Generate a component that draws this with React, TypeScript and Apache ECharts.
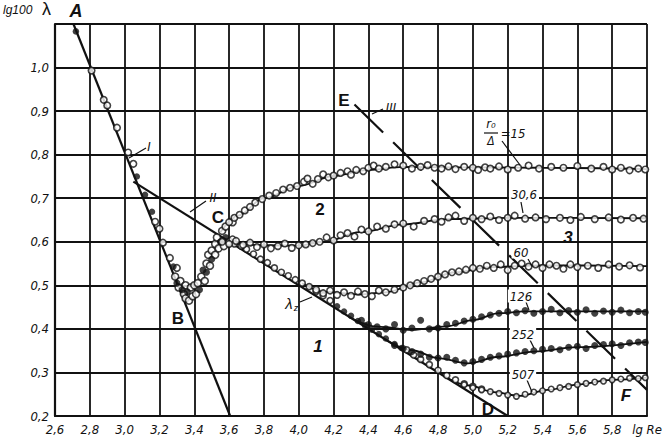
import { useEffect, useRef } from 'react';
import * as echarts from 'echarts';

// ---- axis ticks ----
const xMin = 2.6, xMax = 6.0, xStep = 0.2;
const yMin = 0.2, yMax = 1.1, yStep = 0.1;

// ---- straight reference lines ----
const lineAB = [[2.706, 1.1], [3.606, 0.2]];
const lineII = [[3.05, 0.738], [5.2, 0.2]];
const lineIII = [[4.32, 0.915], [6.0, 0.26]];

// ---- fitted curves ----
const fit15 = [[3.55, 0.622], [3.65, 0.66], [3.8, 0.7], [4.0, 0.728], [4.2, 0.751], [4.4, 0.765], [4.6, 0.772], [4.9, 0.771], [5.4, 0.77], [6.0, 0.767]];
const fit30 = [[3.55, 0.6], [3.8, 0.592], [4.0, 0.591], [4.15, 0.6], [4.35, 0.622], [4.6, 0.64], [4.85, 0.652], [5.2, 0.655], [6.0, 0.654]];
const fit60 = [[4.02, 0.505], [4.15, 0.485], [4.35, 0.479], [4.5, 0.484], [4.7, 0.507], [4.9, 0.53], [5.1, 0.542], [5.4, 0.546], [6.0, 0.544]];
const fit126 = [[4.3, 0.425], [4.45, 0.405], [4.65, 0.398], [4.85, 0.406], [5.0, 0.42], [5.15, 0.436], [5.3, 0.44], [6.0, 0.44]];
const fit252 = [[4.5, 0.375], [4.65, 0.351], [4.8, 0.333], [4.97, 0.321], [5.15, 0.336], [5.35, 0.348], [5.6, 0.358], [6.0, 0.37]];
const fit507 = [[4.85, 0.288], [4.98, 0.27], [5.12, 0.255], [5.27, 0.246], [5.43, 0.26], [5.6, 0.272], [5.8, 0.283], [6.0, 0.288]];

// ---- measured points ----
const lamOpen = [[2.81, 0.993], [2.88, 0.926], [2.9, 0.913], [2.956, 0.862], [3.02, 0.805], [3.05, 0.779], [3.175, 0.646], [3.2, 0.63], [3.22, 0.598], [3.26, 0.563], [3.3, 0.54]];
const lamFilled = [[2.72, 1.083], [3.07, 0.75], [3.117, 0.708], [3.157, 0.669], [3.28, 0.543]];
const transOpen = [[3.29, 0.52], [3.31, 0.495], [3.32, 0.51], [3.34, 0.48], [3.35, 0.5], [3.35, 0.47], [3.37, 0.465], [3.38, 0.495], [3.39, 0.475], [3.4, 0.5], [3.41, 0.48], [3.42, 0.505], [3.44, 0.52], [3.46, 0.51], [3.47, 0.55], [3.48, 0.57], [3.49, 0.545], [3.5, 0.58], [3.52, 0.595], [3.52, 0.57], [3.53, 0.61], [3.54, 0.585], [3.56, 0.625], [3.57, 0.59], [3.58, 0.635], [3.6, 0.6], [3.62, 0.645], [3.62, 0.605]];
const transFilled = [[3.3, 0.505], [3.33, 0.49], [3.36, 0.485], [3.43, 0.49], [3.45, 0.535], [3.47, 0.53], [3.5, 0.56], [3.55, 0.6], [3.58, 0.61]];
const smoothOpen = [[3.63, 0.595], [3.67, 0.59], [3.7, 0.583], [3.74, 0.572], [3.78, 0.56], [3.82, 0.552], [3.86, 0.54], [3.9, 0.53], [3.94, 0.522], [3.98, 0.513], [4.02, 0.505], [4.06, 0.497], [4.1, 0.486], [4.14, 0.476], [4.18, 0.465], [4.62, 0.352], [4.66, 0.34], [4.7, 0.33], [4.75, 0.318], [4.8, 0.305], [4.85, 0.293], [4.9, 0.283], [4.95, 0.274], [5.0, 0.268], [5.05, 0.262]];
const smoothFilled = [[4.22, 0.452], [4.26, 0.44], [4.3, 0.43], [4.34, 0.418], [4.38, 0.408], [4.42, 0.398], [4.46, 0.388], [4.5, 0.378], [4.55, 0.365], [4.59, 0.356]];
const pts15 = [[3.6, 0.645], [3.63, 0.655], [3.66, 0.662], [3.69, 0.672], [3.72, 0.68], [3.75, 0.69], [3.79, 0.698], [3.83, 0.706], [3.87, 0.712], [3.91, 0.72], [3.95, 0.724], [3.99, 0.728], [4.03, 0.738], [4.05, 0.745], [4.08, 0.733], [4.11, 0.744], [4.14, 0.755], [4.17, 0.748], [4.2, 0.752], [4.24, 0.758], [4.28, 0.762], [4.3, 0.754], [4.33, 0.765], [4.37, 0.762], [4.4, 0.77], [4.43, 0.775], [4.46, 0.768], [4.5, 0.772], [4.55, 0.778], [4.6, 0.775], [4.65, 0.768], [4.7, 0.772], [4.74, 0.776], [4.78, 0.77], [4.82, 0.768], [4.86, 0.773], [4.9, 0.767], [4.95, 0.772], [5.0, 0.77], [5.03, 0.765], [5.07, 0.771], [5.1, 0.768], [5.15, 0.773], [5.2, 0.766], [5.26, 0.77], [5.32, 0.775], [5.38, 0.768], [5.45, 0.772], [5.52, 0.77], [5.6, 0.774], [5.68, 0.768], [5.75, 0.772], [5.8, 0.766], [5.85, 0.77], [5.9, 0.764], [5.95, 0.768], [5.99, 0.766]];
const pts30 = [[3.56, 0.6], [3.6, 0.595], [3.64, 0.602], [3.68, 0.593], [3.72, 0.598], [3.76, 0.588], [3.8, 0.594], [3.84, 0.585], [3.88, 0.59], [3.92, 0.596], [3.96, 0.586], [4.0, 0.592], [4.04, 0.594], [4.08, 0.597], [4.12, 0.6], [4.16, 0.61], [4.2, 0.603], [4.24, 0.615], [4.28, 0.62], [4.32, 0.612], [4.36, 0.628], [4.4, 0.624], [4.45, 0.635], [4.5, 0.63], [4.55, 0.64], [4.6, 0.642], [4.66, 0.635], [4.72, 0.648], [4.78, 0.652], [4.82, 0.646], [4.86, 0.656], [4.9, 0.66], [4.95, 0.648], [5.0, 0.655], [5.05, 0.652], [5.1, 0.658], [5.15, 0.65], [5.2, 0.655], [5.24, 0.66], [5.3, 0.653], [5.36, 0.656], [5.42, 0.652], [5.5, 0.655], [5.56, 0.65], [5.62, 0.657], [5.7, 0.652], [5.78, 0.656], [5.85, 0.651], [5.92, 0.655], [5.98, 0.653]];
const pts60 = [[4.1, 0.49], [4.14, 0.482], [4.18, 0.488], [4.22, 0.478], [4.26, 0.484], [4.3, 0.476], [4.34, 0.486], [4.38, 0.48], [4.42, 0.475], [4.46, 0.488], [4.5, 0.484], [4.55, 0.49], [4.6, 0.495], [4.64, 0.5], [4.68, 0.505], [4.72, 0.51], [4.76, 0.515], [4.8, 0.52], [4.84, 0.525], [4.88, 0.53], [4.92, 0.532], [4.96, 0.536], [5.0, 0.54], [5.04, 0.538], [5.08, 0.545], [5.12, 0.54], [5.16, 0.548], [5.2, 0.535], [5.24, 0.545], [5.28, 0.55], [5.32, 0.543], [5.36, 0.548], [5.4, 0.54], [5.44, 0.548], [5.48, 0.545], [5.52, 0.538], [5.56, 0.548], [5.6, 0.542], [5.66, 0.545], [5.72, 0.54], [5.78, 0.548], [5.84, 0.543], [5.9, 0.546], [5.96, 0.541]];
const pts126 = [[4.36, 0.42], [4.4, 0.41], [4.45, 0.405], [4.5, 0.4], [4.55, 0.41], [4.6, 0.397], [4.65, 0.402], [4.7, 0.42], [4.75, 0.4], [4.8, 0.402], [4.85, 0.41], [4.9, 0.413], [4.95, 0.418], [5.0, 0.422], [5.05, 0.428], [5.1, 0.432], [5.15, 0.436], [5.2, 0.44], [5.25, 0.437], [5.3, 0.442], [5.35, 0.436], [5.4, 0.44], [5.45, 0.445], [5.5, 0.437], [5.55, 0.442], [5.6, 0.438], [5.65, 0.444], [5.7, 0.436], [5.75, 0.441], [5.8, 0.438], [5.85, 0.443], [5.9, 0.437], [5.95, 0.44], [5.99, 0.438]];
const pts252 = [[4.55, 0.362], [4.6, 0.355], [4.65, 0.348], [4.7, 0.342], [4.75, 0.335], [4.8, 0.333], [4.85, 0.335], [4.9, 0.328], [4.95, 0.322], [5.0, 0.325], [5.05, 0.33], [5.1, 0.335], [5.15, 0.338], [5.2, 0.342], [5.25, 0.345], [5.3, 0.348], [5.35, 0.35], [5.4, 0.353], [5.45, 0.355], [5.5, 0.352], [5.55, 0.358], [5.6, 0.36], [5.65, 0.355], [5.7, 0.362], [5.75, 0.364], [5.8, 0.366], [5.85, 0.362], [5.9, 0.368], [5.95, 0.37], [5.99, 0.369]];
const pts507 = [[4.95, 0.272], [5.0, 0.265], [5.05, 0.26], [5.1, 0.256], [5.15, 0.252], [5.2, 0.248], [5.25, 0.245], [5.3, 0.25], [5.35, 0.255], [5.4, 0.258], [5.45, 0.262], [5.5, 0.265], [5.55, 0.268], [5.6, 0.272], [5.65, 0.275], [5.7, 0.278], [5.75, 0.28], [5.8, 0.283], [5.85, 0.285], [5.9, 0.287], [5.95, 0.286], [5.99, 0.288]];

const INK = '#111';
const NUM_FONT = 'DejaVu Sans Condensed, Liberation Sans Narrow, sans-serif';
const LET_FONT = 'Liberation Sans, Arial, sans-serif';

function straight(data: number[][], width = 2, type: any = 'solid') {
  return { type: 'line', data, symbol: 'none', silent: true, lineStyle: { color: INK, width, type }, z: 3 };
}
function fit(data: number[][]) {
  return { type: 'line', data, symbol: 'none', smooth: 0.35, smoothMonotone: 'x', silent: true, lineStyle: { color: INK, width: 1.8 }, z: 3 };
}
function openPts(data: number[][], size = 6.5) {
  return { type: 'scatter', data, symbol: 'circle', symbolSize: size, silent: true, itemStyle: { color: '#fff', borderColor: INK, borderWidth: 1.6 }, z: 4 };
}
function filledPts(data: number[][], size = 6.5) {
  return { type: 'scatter', data, symbol: 'circle', symbolSize: size, silent: true, itemStyle: { color: INK }, z: 4 };
}

function letter(text: string, x: number, y: number, size = 17, italic = false) {
  return { type: 'text', x, y, z: 20, style: { text, fill: INK, font: `${italic ? 'italic ' : ''}bold ${size}px ${LET_FONT}`, align: 'center', verticalAlign: 'middle' } };
}
function num(text: string, x: number, y: number, size = 13, bg = true) {
  return { type: 'text', x, y, z: 20, style: { text, fill: INK, font: `italic ${size}px ${NUM_FONT}`, align: 'center', verticalAlign: 'middle', backgroundColor: bg ? '#fff' : 'transparent', padding: [0, 2] } };
}
function leader(x1: number, y1: number, x2: number, y2: number) {
  return { type: 'line', z: 19, shape: { x1, y1, x2, y2 }, style: { stroke: INK, lineWidth: 1.2 } };
}

export default function App() {
  const ref = useRef<HTMLDivElement>(null);
  useEffect(() => {
    document.body.style.margin = '0';
    const chart = echarts.init(ref.current!, null, { renderer: 'svg' });
    const axisLabelStyle = { color: INK, fontStyle: 'italic', fontFamily: NUM_FONT, fontSize: 13 };
    chart.setOption({
      animation: false,
      backgroundColor: '#fff',
      grid: { left: 55, right: 22, top: 24, bottom: 30, outerBoundsMode: 'none' },
      xAxis: {
        type: 'value', min: xMin, max: xMax, interval: xStep,
        axisLine: { show: true, lineStyle: { color: INK, width: 2.2 } },
        axisTick: { show: false },
        splitLine: { show: true, lineStyle: { color: INK, width: 1.8 } },
        axisLabel: {
          ...axisLabelStyle, margin: 7, showMaxLabel: true, showMinLabel: true,
          formatter: (v: number) => (Math.abs(v - 6) < 1e-6 ? 'lg Re' : v.toFixed(1).replace('.', ',')),
        },
      },
      yAxis: {
        type: 'value', min: yMin, max: yMax, interval: yStep,
        axisLine: { show: true, lineStyle: { color: INK, width: 2.2 } },
        axisTick: { show: false },
        splitLine: { show: true, lineStyle: { color: INK, width: 1.8 } },
        axisLabel: {
          ...axisLabelStyle, margin: 6, showMaxLabel: true,
          formatter: (v: number) => (Math.abs(v - 1.1) < 1e-6 ? '' : v.toFixed(1).replace('.', ',')),
        },
      },
      series: [
        straight(lineAB, 2.2),
        straight(lineII, 2.2),
        straight(lineIII, 2.2, [40, 14]),
        fit(fit15), fit(fit30), fit(fit60), fit(fit126), fit(fit252), fit(fit507),
        openPts(lamOpen), filledPts(lamFilled),
        openPts(transOpen, 7), filledPts(transFilled, 7),
        openPts(smoothOpen, 6), filledPts(smoothFilled),
        openPts(pts15), openPts(pts30), openPts(pts60),
        filledPts(pts126, 7), filledPts(pts252, 7), openPts(pts507, 5.5),
      ],
      graphic: [
        { type: 'text', x: 3, y: 10, z: 20, style: { text: 'lg100', fill: INK, font: `italic 12px ${LET_FONT}`, verticalAlign: 'middle' } },
        { type: 'text', x: 42, y: 9, z: 20, style: { text: 'λ', fill: INK, font: `18px ${LET_FONT}`, verticalAlign: 'middle' } },
        letter('A', 76, 11, 18, true),
        letter('B', 178, 318),
        letter('C', 218, 217),
        letter('D', 488, 409),
        letter('E', 344, 100),
        letter('F', 626, 395, 17, true),
        letter('2', 320, 209),
        letter('1', 318, 346, 17, true),
        letter('3', 568, 237, 17, true),
        num('I', 149, 146, 13, false),
        leader(129, 158, 146, 148),
        num('II', 213, 197, 13, false),
        leader(190, 212, 206, 201),
        num('III', 391, 107, 13, false),
        leader(372, 114, 383, 109),
        { type: 'text', x: 289, y: 303, z: 20, style: { text: 'λ', fill: INK, font: `italic 15px ${LET_FONT}`, align: 'center', verticalAlign: 'middle' } },
        { type: 'text', x: 296, y: 308, z: 20, style: { text: 'z', fill: INK, font: `italic 9px ${LET_FONT}`, align: 'center', verticalAlign: 'middle' } },
        leader(300, 302, 312, 297),
        { type: 'text', x: 491, y: 123, z: 20, style: { text: 'r₀', fill: INK, font: `italic 13px ${NUM_FONT}`, align: 'center', verticalAlign: 'middle' } },
        { type: 'line', z: 20, shape: { x1: 484, y1: 133, x2: 498, y2: 133 }, style: { stroke: INK, lineWidth: 1.2 } },
        { type: 'text', x: 491, y: 141, z: 20, style: { text: 'Δ', fill: INK, font: `italic 12px ${NUM_FONT}`, align: 'center', verticalAlign: 'middle' } },
        { type: 'text', x: 513, y: 133, z: 20, style: { text: '=15', fill: INK, font: `italic 13px ${NUM_FONT}`, align: 'center', verticalAlign: 'middle' } },
        leader(502, 141, 520, 165),
        num('30,6', 524, 194),
        leader(521, 202, 523, 213),
        num('60', 521, 252),
        leader(528, 259, 532, 266),
        num('126', 521, 296),
        leader(526, 302, 529, 310),
        num('252', 523, 334),
        leader(530, 340, 534, 348),
        num('507', 523, 374),
        leader(527, 380, 532, 392),
      ],
    });
    return () => chart.dispose();
  }, []);
  return <div ref={ref} style={{ width: 669, height: 446 }} />;
}
